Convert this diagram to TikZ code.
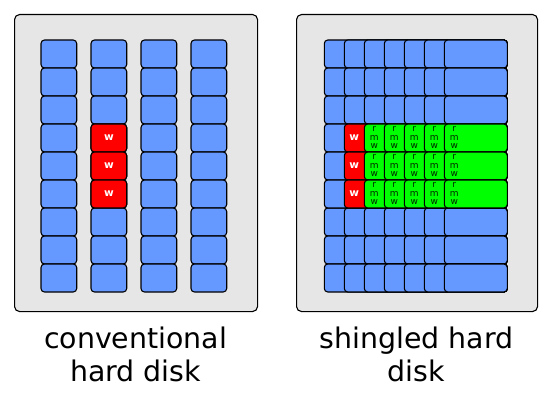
\documentclass[tikz,border=0pt]{standalone}
\usepackage{fontspec}
\setmainfont{DejaVu Sans}
\definecolor{panelgray}{HTML}{E6E6E6}
\definecolor{blkblue}{HTML}{6699FF}
\definecolor{blkred}{HTML}{FF0000}
\definecolor{blkgreen}{HTML}{00FF00}
\begin{document}
\begin{tikzpicture}[x=1pt,y=-1pt,
  panel/.style={draw=black, fill=panelgray, rounded corners=5pt, line width=1.1pt},
  blk/.style={draw=black, fill=blkblue, rounded corners=3.5pt, line width=1.1pt,
    inner sep=0pt, outer sep=0pt, minimum height=28pt, anchor=north west},
  redblk/.style={blk, fill=blkred},
  greenblk/.style={blk, fill=blkgreen},
  wtext/.style={text=white, font=\fontsize{10.5}{10}\selectfont\bfseries, inner sep=0pt},
  gtext/.style={text=black!85!green, font=\fontsize{9}{8.6}\selectfont, align=center, inner sep=0pt},
  caption/.style={font=\fontsize{28.4}{33.4}\selectfont, align=center, inner sep=0pt}]
\useasboundingbox (0,0) rectangle (552,401);
% panels
\node[panel, minimum width=243pt, minimum height=297pt, anchor=north west, inner sep=0pt] (P1) at (14,14) {};
\node[panel, minimum width=241pt, minimum height=297pt, anchor=north west, inner sep=0pt] (P2) at (296,14) {};
% conventional disk
\foreach \c in {0,1,2,3}{
  \foreach \r in {0,...,8}{
    \node[blk, minimum width=35.7pt] (L\c-\r) at ({41+50*\c}, {40+28*\r}) {};
  }
}
\foreach \r in {3,4,5}{
  \node[redblk, minimum width=35.7pt] (LR\r) at (91, {40+28*\r}) {};
  \node[wtext] (LW\r) at (LR\r.center) {w};
}
% shingled disk
\foreach \r in {0,1,2,6,7,8}{
  \foreach \j in {0,...,6}{
    \node[blk, minimum width={183-20*\j}] (S\j-\r) at ({324.3+20*\j}, {40+28*\r}) {};
  }
}
\foreach \r in {3,4,5}{
  \node[blk, minimum width=183pt] (S0-\r) at (324.3, {40+28*\r}) {};
  \node[redblk, minimum width=163pt] (S1-\r) at (344.3, {40+28*\r}) {};
  \node[wtext] (SW\r) at (354.3, {54+28*\r}) {w};
  \foreach \j in {2,...,6}{
    \node[greenblk, minimum width={183-20*\j}] (S\j-\r) at ({324.3+20*\j}, {40+28*\r}) {};
    \node[gtext] (ST\j-\r) at ({334.3+20*\j}, {53.5+28*\r}) {r\\m\\w};
  }
}
% captions
\node[caption] (C1) at (135.5, 354.2) {conventional\\hard disk};
\node[caption] (C2) at (416.5, 354.2) {shingled hard\\disk};
\end{tikzpicture}
\end{document}
